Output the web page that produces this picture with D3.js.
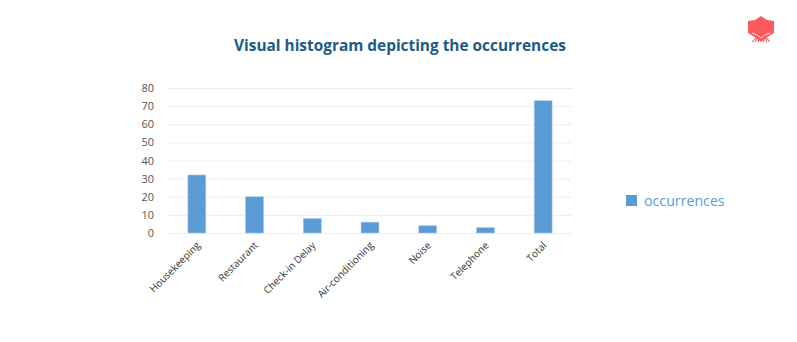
<!DOCTYPE html>
<html>
<head>
<meta charset="utf-8">
<script src="https://cdn.jsdelivr.net/npm/d3@7"></script>
<style>
  html, body { margin: 0; padding: 0; background: #fff; }
  svg { display: block; font-family: "Open Sans", sans-serif; }
</style>
</head>
<body>
<svg id="chart" width="797" height="342"></svg>
<script>
// Complaint categories and how often each occurred
const categories = ["Housekeeping", "Restaurant", "Check-in Delay", "Air-conditioning", "Noise", "Telephone", "Total"];
const occurrences = [32, 20, 8, 6, 4, 3, 73];
const yTicks = [0, 10, 20, 30, 40, 50, 60, 70, 80];
const seriesName = "occurrences";
const titleText = "Visual histogram depicting the occurrences";

const svg = d3.select("#chart");
const margin = { left: 168, right: 225, top: 88, bottom: 109 };
const W = 797, H = 342;

const x = d3.scaleBand()
  .domain(categories)
  .range([margin.left, W - margin.right])
  .paddingInner(0.69)
  .paddingOuter(0.345);

const y = d3.scaleLinear()
  .domain([0, 80])
  .range([H - margin.bottom, margin.top]);

// Title
svg.append("text")
  .attr("x", 400)
  .attr("y", 51)
  .attr("text-anchor", "middle")
  .attr("font-size", 15.4)
  .attr("font-weight", 700)
  .attr("fill", "#1d5b85")
  .text(titleText);

// Horizontal gridlines + y tick labels
const yAxis = d3.axisLeft(y).tickValues(yTicks).tickSize(-(W - margin.right - margin.left)).tickPadding(14);
const gy = svg.append("g")
  .attr("transform", `translate(${margin.left},0)`)
  .call(yAxis);
gy.select(".domain").remove();
gy.selectAll(".tick line").attr("stroke", "#eeeeee").attr("stroke-width", 1);
gy.selectAll(".tick text")
  .attr("fill", "#555")
  .attr("font-size", 11)
  .attr("font-family", "'Open Sans', sans-serif");

// Bars
svg.append("g").selectAll("rect")
  .data(categories)
  .join("rect")
  .attr("x", d => x(d))
  .attr("width", x.bandwidth())
  .attr("y", (d, i) => y(occurrences[i]))
  .attr("height", (d, i) => y(0) - y(occurrences[i]))
  .attr("fill", "#5b9bd5")
  .attr("stroke", "#a9cbec")
  .attr("stroke-width", 0.6);

// Rotated category labels
const xAxis = d3.axisBottom(x).tickSize(0).tickPadding(0);
const gx = svg.append("g")
  .attr("transform", `translate(0,${y(0)})`)
  .call(xAxis);
gx.select(".domain").remove();
gx.selectAll(".tick text")
  .attr("fill", "#333")
  .attr("font-size", 10)
  .attr("font-family", "'Open Sans', sans-serif")
  .attr("text-anchor", "end")
  .attr("dy", null)
  .attr("transform", "translate(4,13) rotate(-45)");

// Legend
const legend = svg.append("g").attr("transform", "translate(626,195)");
legend.append("rect").attr("width", 11).attr("height", 11).attr("fill", "#5b9bd5");
legend.append("text")
  .attr("x", 18)
  .attr("y", 11)
  .attr("font-size", 14.2)
  .attr("fill", "#5b9bd5")
  .text(seriesName);

// Brand mark, top right
const logo = svg.append("g").attr("transform", "translate(748,16)");
logo.append("path")
  .attr("d", "M0,5 L7,4 L13,0 L19,4 L26,5 L26,17 Q20,20 13,26 Q6,20 0,17 Z")
  .attr("fill", "#fb5a5e");
[-9, -6, -3, 3, 6, 9].forEach(dx => {
  logo.append("path")
    .attr("d", `M13,16 Q${13 + dx * 0.5},21 ${13 + dx},26`)
    .attr("stroke", "#fb5a5e")
    .attr("stroke-width", 1.1)
    .attr("fill", "none");
});
logo.append("path")
  .attr("d", "M4,17 Q9,18 13,22 Q17,18 22,17")
  .attr("stroke", "#fff")
  .attr("stroke-width", 0.8)
  .attr("fill", "none");
</script>
</body>
</html>
